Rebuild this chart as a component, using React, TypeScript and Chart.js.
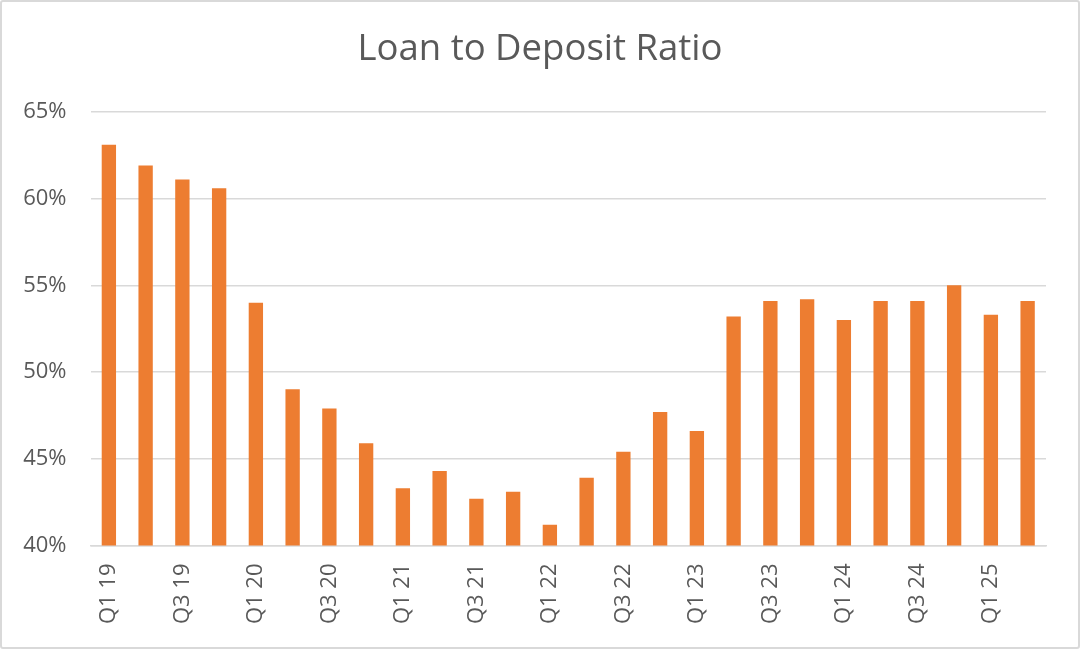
import React, { useEffect, useRef } from 'react';
import Chart from 'chart.js/auto';

const quarters = [
  'Q1 19', 'Q2 19', 'Q3 19', 'Q4 19',
  'Q1 20', 'Q2 20', 'Q3 20', 'Q4 20',
  'Q1 21', 'Q2 21', 'Q3 21', 'Q4 21',
  'Q1 22', 'Q2 22', 'Q3 22', 'Q4 22',
  'Q1 23', 'Q2 23', 'Q3 23', 'Q4 23',
  'Q1 24', 'Q2 24', 'Q3 24', 'Q4 24',
  'Q1 25', 'Q2 25',
];

const ratio = [
  63.1, 61.9, 61.1, 60.6,
  54.0, 49.0, 47.9, 45.9,
  43.3, 44.3, 42.7, 43.1,
  41.2, 43.9, 45.4, 47.7,
  46.6, 53.2, 54.1, 54.2,
  53.0, 54.1, 54.1, 55.0,
  53.3, 54.1,
];

const yTicks = [40, 45, 50, 55, 60, 65];

const TEXT = '#595959';
const GRID = '#d9d9d9';
const ORANGE = '#ED7D31';
const FONT = '"Open Sans", sans-serif';

export default function App() {
  const chartRef = useRef<HTMLCanvasElement>(null);
  const chartInstance = useRef<Chart | null>(null);

  useEffect(() => {
    document.body.style.margin = '0';
    if (!chartRef.current) return;

    if (chartInstance.current) {
      chartInstance.current.destroy();
    }

    const ctx = chartRef.current.getContext('2d');
    if (!ctx) return;

    chartInstance.current = new Chart(ctx, {
      type: 'bar',
      data: {
        labels: quarters,
        datasets: [{
          label: 'Loan to Deposit Ratio',
          data: ratio,
          backgroundColor: ORANGE,
          borderWidth: 0,
          barPercentage: 0.39,
          categoryPercentage: 1,
        }]
      },
      options: {
        responsive: false,
        animation: false,
        layout: {
          padding: { left: 17, right: 17, top: 0, bottom: 0 }
        },
        plugins: {
          legend: { display: false },
          tooltip: { enabled: false },
          title: {
            display: true,
            text: 'Loan to Deposit Ratio',
            color: TEXT,
            font: { family: FONT, size: 36.5, weight: 'normal' },
            padding: { top: 28, bottom: 40 }
          }
        },
        scales: {
          x: {
            grid: { display: false, drawTicks: false },
            border: { display: true, color: GRID, width: 1.5 },
            afterFit: (scale: any) => { scale.height = 103.5; },
            ticks: {
              autoSkip: false,
              minRotation: 90,
              maxRotation: 90,
              padding: 18,
              color: TEXT,
              font: { family: FONT, size: 22 },
              callback: (_v: any, i: number) => (i % 2 === 0 ? quarters[i] : '')
            }
          },
          y: {
            min: yTicks[0],
            max: yTicks[yTicks.length - 1],
            afterFit: (scale: any) => { scale.width = 73.5; },
            afterBuildTicks: (scale: any) => {
              scale.ticks = yTicks.map((v) => ({ value: v }));
            },
            grid: { color: GRID, lineWidth: 1.5, drawTicks: false },
            border: { display: false },
            ticks: {
              padding: 24,
              color: TEXT,
              font: { family: FONT, size: 22 },
              callback: (v: any) => `${v}%`
            }
          },
          // empty right-hand gutter so the title stays centred on the page
          gutter: {
            type: 'linear',
            position: 'right',
            afterFit: (scale: any) => { scale.width = 17; },
            grid: { display: false, drawTicks: false },
            border: { display: false },
            ticks: { display: false }
          }
        }
      }
    });

    return () => {
      if (chartInstance.current) {
        chartInstance.current.destroy();
        chartInstance.current = null;
      }
    };
  }, []);

  return (
    <div style={{ position: 'absolute', left: 0, top: 0, width: 1080, height: 649, background: '#fff' }}>
      <canvas ref={chartRef} width={1080} height={649} style={{ width: 1080, height: 649, display: 'block' }} />
      <div
        style={{
          position: 'absolute',
          left: 0,
          top: 0,
          width: 1080,
          height: 649,
          boxSizing: 'border-box',
          border: '2px solid #d9d9d9',
          borderRadius: 3,
          pointerEvents: 'none'
        }}
      />
    </div>
  );
}
